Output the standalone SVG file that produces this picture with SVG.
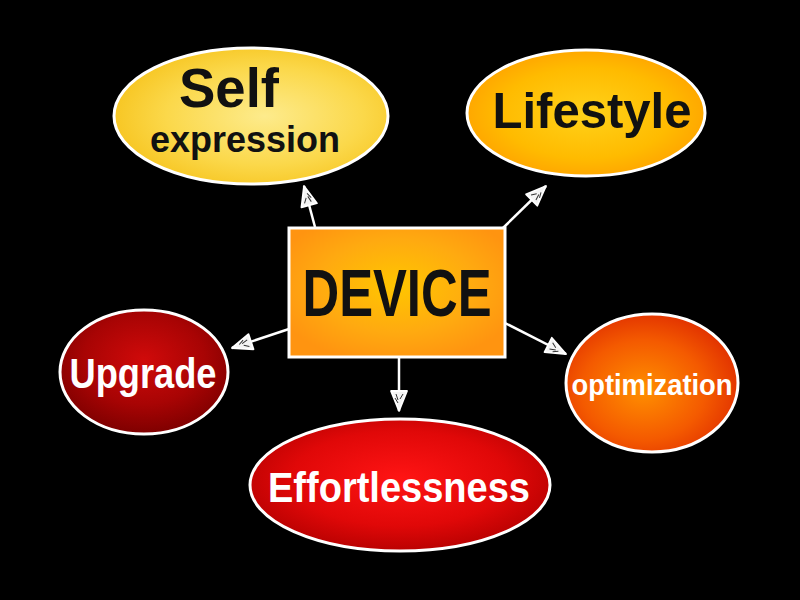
<svg xmlns="http://www.w3.org/2000/svg" width="800" height="600" viewBox="0 0 800 600">
<defs>
<radialGradient id="gSelf" cx="0.55" cy="0.5" r="0.6">
<stop offset="0" stop-color="#fdeb8c"/><stop offset="0.6" stop-color="#fbd84a"/><stop offset="1" stop-color="#f6c21a"/>
</radialGradient>
<radialGradient id="gLife" cx="0.5" cy="0.5" r="0.6">
<stop offset="0" stop-color="#ffd21a"/><stop offset="0.6" stop-color="#ffbb00"/><stop offset="1" stop-color="#ff9a00"/>
</radialGradient>
<radialGradient id="gDev" cx="0.5" cy="0.45" r="0.6">
<stop offset="0" stop-color="#ffc600"/><stop offset="0.6" stop-color="#ffaa10"/><stop offset="1" stop-color="#ff9410"/>
</radialGradient>
<radialGradient id="gUp" cx="0.5" cy="0.4" r="0.6">
<stop offset="0" stop-color="#d00a0a"/><stop offset="0.6" stop-color="#a80404"/><stop offset="1" stop-color="#7e0000"/>
</radialGradient>
<radialGradient id="gOpt" cx="0.45" cy="0.55" r="0.6">
<stop offset="0" stop-color="#ff8f00"/><stop offset="0.6" stop-color="#f45a00"/><stop offset="1" stop-color="#df2d00"/>
</radialGradient>
<radialGradient id="gEff" cx="0.5" cy="0.45" r="0.6">
<stop offset="0" stop-color="#ff1414"/><stop offset="0.6" stop-color="#e00808"/><stop offset="1" stop-color="#b00000"/>
</radialGradient>
<marker id="ah" viewBox="0 0 24 20" refX="22" refY="10" markerWidth="24" markerHeight="20" markerUnits="userSpaceOnUse" orient="auto">
<path d="M2,2 L22,10 L2,18 Z" fill="#f4f4f4" stroke="#ffffff" stroke-width="1.8" stroke-linejoin="round"/>
<path d="M5,6 L10,9 M5,13 L11,11 M9,14 L14,11" stroke="#333" stroke-width="1" fill="none"/>
</marker>
<style>
.node{stroke:#ffffff;stroke-width:3}
.dark{font-family:"Liberation Sans",Arial,sans-serif;font-weight:bold;fill:#111111}
.light{font-family:"Liberation Sans",Arial,sans-serif;font-weight:bold;fill:#ffffff}
.conn{stroke:#ffffff;stroke-width:2.5;fill:none;marker-end:url(#ah)}
</style>
</defs>
<rect width="800" height="600" fill="#000000"/>
<g id="connectors">
<path class="conn" d="M315,227 L304,186"/>
<path class="conn" d="M503,228 L546,186"/>
<path class="conn" d="M505,323 L566,354"/>
<path class="conn" d="M399,357 L399,411"/>
<path class="conn" d="M289,329 L232,348"/>
</g>
<g id="self-expression">
<ellipse class="node" cx="251" cy="116" rx="137" ry="68" fill="url(#gSelf)"/>
<text class="dark" x="229" y="107" font-size="55" text-anchor="middle" textLength="100" lengthAdjust="spacingAndGlyphs">Self</text>
<text class="dark" x="245" y="152" font-size="37" text-anchor="middle" textLength="190" lengthAdjust="spacingAndGlyphs">expression</text>
</g>
<g id="lifestyle">
<ellipse class="node" cx="586" cy="113" rx="119" ry="63" fill="url(#gLife)"/>
<text class="dark" x="592" y="128" font-size="50" text-anchor="middle" textLength="199" lengthAdjust="spacingAndGlyphs">Lifestyle</text>
</g>
<g id="device">
<rect class="node" x="289" y="228" width="216" height="129" fill="url(#gDev)" stroke-width="2.5"/>
<text class="dark" x="397" y="316" font-size="66" text-anchor="middle" textLength="189" lengthAdjust="spacingAndGlyphs">DEVICE</text>
</g>
<g id="upgrade">
<ellipse class="node" cx="144" cy="372" rx="84" ry="62" fill="url(#gUp)"/>
<text class="light" x="143" y="388" font-size="42" text-anchor="middle" textLength="147" lengthAdjust="spacingAndGlyphs">Upgrade</text>
</g>
<g id="optimization">
<ellipse class="node" cx="652" cy="383" rx="86" ry="69" fill="url(#gOpt)"/>
<text class="light" x="652" y="395" font-size="30" text-anchor="middle" textLength="161" lengthAdjust="spacingAndGlyphs">optimization</text>
</g>
<g id="effortlessness">
<ellipse class="node" cx="400" cy="485" rx="150" ry="66" fill="url(#gEff)"/>
<text class="light" x="399" y="502" font-size="42" text-anchor="middle" textLength="262" lengthAdjust="spacingAndGlyphs">Effortlessness</text>
</g>
</svg>
